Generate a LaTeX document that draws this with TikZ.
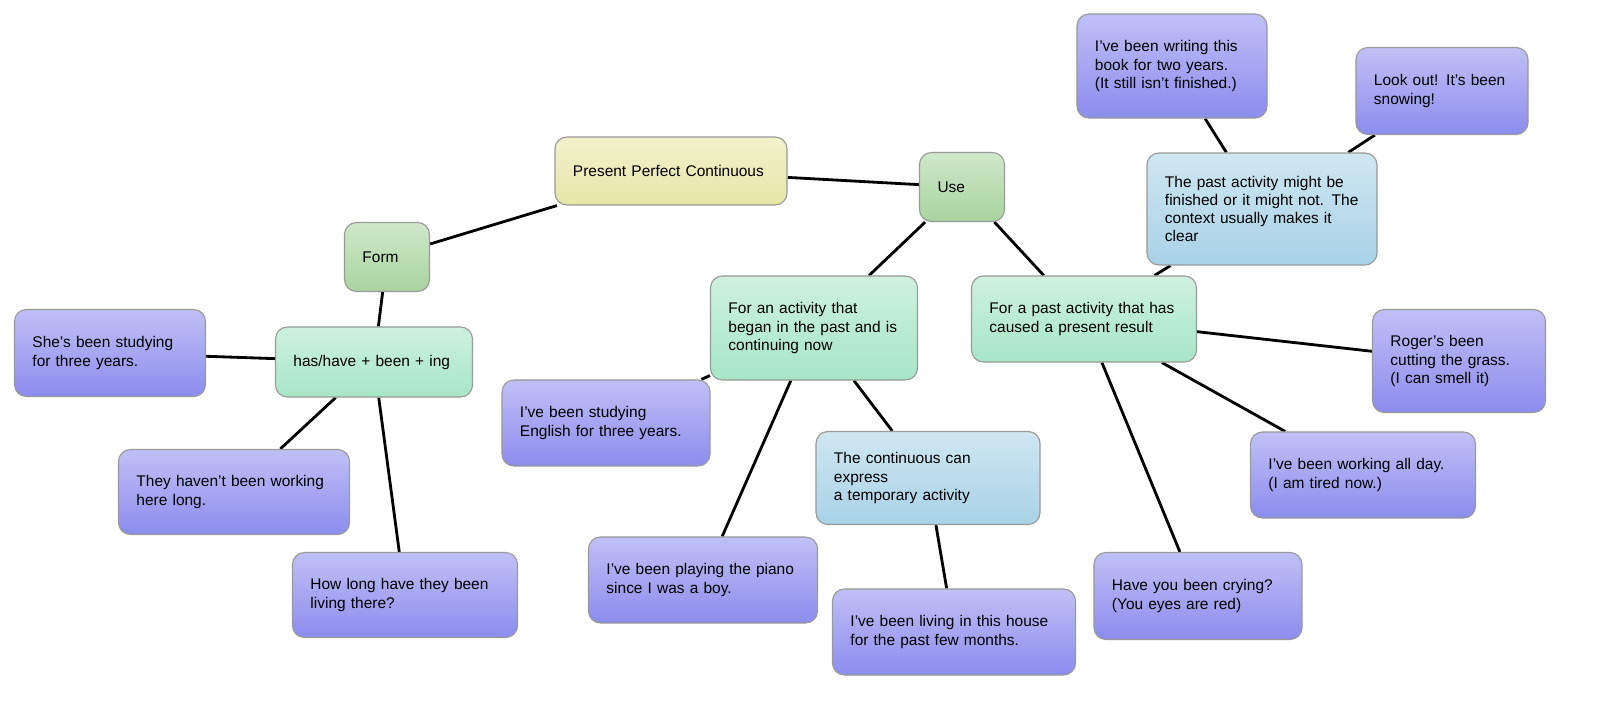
\documentclass[tikz,border=0pt]{standalone}
\usepackage{fontspec}
\setmainfont{Liberation Sans}
\usetikzlibrary{backgrounds}

\definecolor{boxblue}{HTML}{8C8CEE}
\definecolor{boxmint}{HTML}{A6E6C6}
\definecolor{boxsky}{HTML}{A8D2E6}
\definecolor{boxyellow}{HTML}{E6E6A6}
\definecolor{boxgreen}{HTML}{A8D49E}

\tikzset{
	mappicture/.style = {
		x = 0.025cm,
		y = -0.025cm,
		link/.style = {
			draw = black,
			line width = 2pt
		}
	},
	mapnode/.style = {
		draw = gray!80,
		line width = 0.8pt,
		rounded corners = 0.3cm,
		align = left,
		inner xsep = 0.45cm,
		font = \fontsize{11}{13}\selectfont
	},
	example/.style = {
		mapnode,
		top color = boxblue!55,
		bottom color = boxblue
	},
	usage/.style = {
		mapnode,
		top color = boxmint!55,
		bottom color = boxmint
	},
	note/.style = {
		mapnode,
		top color = boxsky!55,
		bottom color = boxsky
	},
	title/.style = {
		mapnode,
		top color = boxyellow!55,
		bottom color = boxyellow
	},
	branch/.style = {
		mapnode,
		top color = boxgreen!55,
		bottom color = boxgreen
	}
}

\begin{document}
\begin{tikzpicture}[mappicture]
	\useasboundingbox (0,0) rectangle (1600,711);

	% centre and branches
	\node[title, minimum width = 5.8cm, minimum height = 1.7cm, text width = 4.9cm] (PPC) at (671,171) {Present Perfect Continuous};
	\node[branch, minimum width = 2.125cm, minimum height = 1.725cm, text width = 1.225cm] (Use) at (962,187) {Use};
	\node[branch, minimum width = 2.125cm, minimum height = 1.725cm, text width = 1.225cm] (Form) at (387,257) {Form};

	% form
	\node[usage, minimum width = 4.925cm, minimum height = 1.75cm, text width = 4.025cm] (Has) at (374,362) {has/have + been + ing};
	\node[example, minimum width = 4.775cm, minimum height = 2.175cm, text width = 3.875cm] (Shes) at (110,353) {She's been studying\\for three years.};
	\node[example, minimum width = 5.775cm, minimum height = 2.125cm, text width = 4.875cm] (They) at (234,492) {They haven't been working\\here long.};
	\node[example, minimum width = 5.625cm, minimum height = 2.125cm, text width = 4.725cm] (HowLong) at (405,595) {How long have they been\\living there?};

	% first use
	\node[usage, minimum width = 5.175cm, minimum height = 2.6cm, text width = 4.275cm] (ForAct) at (814,328) {For an activity that\\began in the past and is\\continuing now};
	\node[example, minimum width = 5.2cm, minimum height = 2.15cm, text width = 4.3cm] (StudyEng) at (606,423) {I've been studying\\English for three years.};
	\node[note, minimum width = 5.6cm, minimum height = 2.325cm, text width = 4.7cm] (Contin) at (928,478) {The continuous can\\express\\a temporary activity};
	\node[example, minimum width = 5.725cm, minimum height = 2.15cm, text width = 4.825cm] (Piano) at (703,580) {I've been playing the piano\\since I was a boy.};
	\node[example, minimum width = 6.075cm, minimum height = 2.15cm, text width = 5.175cm] (Living) at (954,632) {I've been living in this house\\for the past few months.};

	% second use
	\node[usage, minimum width = 5.625cm, minimum height = 2.15cm, text width = 4.725cm] (ForPast) at (1084,319) {For a past activity that has\\caused a present result};
	\node[note, minimum width = 5.75cm, minimum height = 2.8cm, text width = 4.85cm] (Might) at (1262,209) {The past activity might be\\finished or it might not. The\\context usually makes it\\clear};
	\node[example, minimum width = 4.75cm, minimum height = 2.6cm, text width = 3.85cm] (Writing) at (1172,66) {I've been writing this\\book for two years.\\(It still isn't finished.)};
	\node[example, minimum width = 4.3cm, minimum height = 2.175cm, text width = 3.4cm] (LookOut) at (1442,91) {Look out! It's been\\snowing!};
	\node[example, minimum width = 4.325cm, minimum height = 2.575cm, text width = 3.425cm] (Rogers) at (1459,361) {Roger's been\\cutting the grass.\\(I can smell it)};
	\node[example, minimum width = 5.625cm, minimum height = 2.15cm, text width = 4.725cm] (Working) at (1363,475) {I've been working all day.\\(I am tired now.)};
	\node[example, minimum width = 5.2cm, minimum height = 2.175cm, text width = 4.3cm] (Crying) at (1198,596) {Have you been crying?\\(You eyes are red)};

	\begin{scope}[on background layer]
		\draw[link] (PPC) -- (Use);
		\draw[link] (PPC) -- (Form);
		\draw[link] (Form) -- (Has);
		\draw[link] (Has) -- (Shes);
		\draw[link] (Has) -- (They);
		\draw[link] (Has) -- (HowLong);

		\draw[link] (Use) -- (ForAct);
		\draw[link] (Use) -- (ForPast);
		\draw[link] (ForAct) -- (StudyEng);
		\draw[link] (ForAct) -- (Piano);
		\draw[link] (ForAct) -- (Contin);
		\draw[link] (Contin) -- (Living);

		\draw[link] (ForPast) -- (Might);
		\draw[link] (Might) -- (Writing);
		\draw[link] (Might) -- (LookOut);
		\draw[link] (ForPast) -- (Rogers);
		\draw[link] (ForPast) -- (Working);
		\draw[link] (ForPast) -- (Crying);
	\end{scope}
\end{tikzpicture}
\end{document}
